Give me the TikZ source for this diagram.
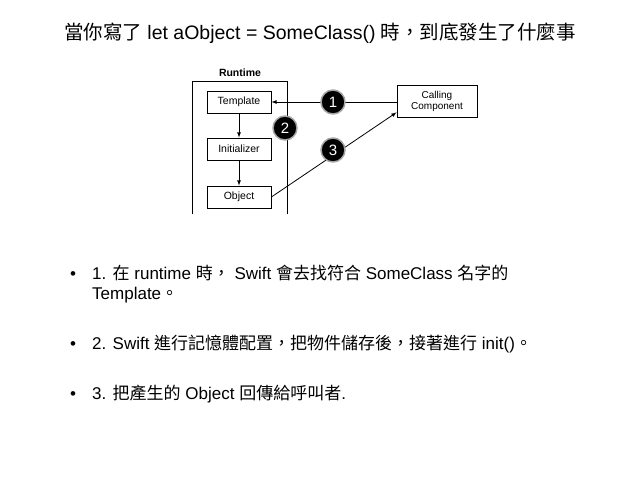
\documentclass[tikz,border=0pt]{standalone}
\usepackage{fontspec}
\setmainfont{Liberation Sans}
\newfontfamily\cjk{Noto Sans CJK TC}
\begin{document}
\begin{tikzpicture}
  [x=1pt,y=-1pt,
  box/.style={draw=black,thick,fill=white,minimum width=64pt,minimum height=22pt,inner sep=1pt,font=\fontsize{10.5}{12}\selectfont},
  stepmark/.style={shape=circle,fill=black,draw=gray!70,line width=1.5pt,minimum size=24pt,inner sep=0pt,text=white,font=\fontsize{15}{15}\selectfont},
  arc/.style={->,>=latex,thick},
  bullet/.style={anchor=base west,inner sep=0pt,font=\fontsize{17}{20}\selectfont}]

  \useasboundingbox (0,0) rectangle (638,479);

  \node (title) at (320,33) {\fontsize{19.5}{22}\selectfont {\cjk 當你寫了} let aObject = SomeClass() {\cjk 時，到底發生了什麼事}};

  \node (runtimelbl) at (240,73) {\fontsize{10.5}{12}\selectfont\bfseries Runtime};
  \draw[thick] (192,214) -- (192,81) -- (287,81) -- (287,214);

  \node (tmpl) [box] at (239,102) {Template};
  \node (init) [box] at (239,149) {Initializer};
  \node (obj) [box] at (239,197) {Object};
  \node (call) [box,minimum width=80pt,minimum height=32pt,align=center,font=\fontsize{10}{11}\selectfont] at (437,101) {Calling\\Component};

  \draw [arc] (tmpl) -- (init);
  \draw [arc] (init) -- (obj);
  \draw [arc] (call.west |- tmpl) -- (tmpl);
  \draw [arc] (obj.east) -- ([yshift=5pt]call.south west);

  \node (m1) [stepmark] at (333,102) {1};
  \node (m2) [stepmark] at (285,128) {2};
  \node (m3) [stepmark] at (333,150) {3};

  % bullet list
  \node (b1) [bullet] at (70,279) {•};
  \node (t1) [bullet] at (92,279) {1. {\cjk 在} runtime {\cjk 時，} Swift {\cjk 會去找符合} SomeClass {\cjk 名字的}};
  \node (t1b) [bullet] at (92,299) {Template{\cjk 。}};
  \node (b2) [bullet] at (70,349) {•};
  \node (t2) [bullet] at (92,349) {2. Swift {\cjk 進行記憶體配置，把物件儲存後，接著進行} init(){\cjk 。}};
  \node (b3) [bullet] at (70,399) {•};
  \node (t3) [bullet] at (92,399) {3. {\cjk 把產生的} Object {\cjk 回傳給呼叫者}.};
\end{tikzpicture}
\end{document}
